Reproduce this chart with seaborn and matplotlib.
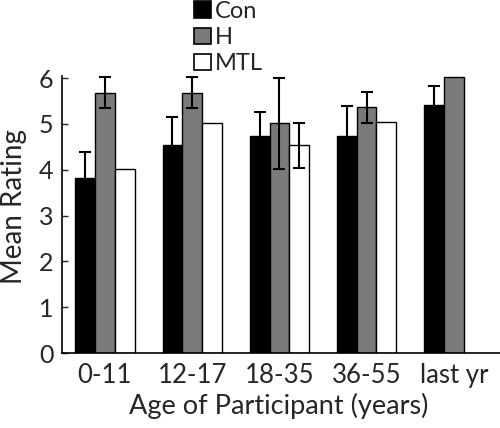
import numpy as np
import pandas as pd
import matplotlib
matplotlib.use('Agg')
import matplotlib.pyplot as plt
import seaborn as sns

# data
ages = ['0-11', '12-17', '18-35', '36-55', 'last yr']
groups = ['Con', 'H', 'MTL']
con_mean = [3.83, 4.53, 4.73, 4.73, 5.42]
con_err = [0.55, 0.62, 0.52, 0.65, 0.40]
h_mean = [5.68, 5.68, 5.01, 5.36, 6.03]
h_err = [0.34, 0.34, 1.00, 0.34, 0.0]
mtl_mean = [4.01, 5.01, 4.53, 5.04, np.nan]
mtl_err = [0.0, 0.0, 0.50, 0.0, 0.0]

rows = []
for g, means, errs in zip(groups, [con_mean, h_mean, mtl_mean], [con_err, h_err, mtl_err]):
    for a, m, e in zip(ages, means, errs):
        rows.append({'age': a, 'group': g, 'mean': m, 'err': e})
df = pd.DataFrame(rows)

sns.set_theme(style='white')
plt.rcParams['font.family'] = ['Lato', 'DejaVu Sans']

fig = plt.figure(figsize=(5, 4.28), dpi=100)
ax = fig.add_axes([0.124, 0.175, 0.876, 0.648])

palette = {'Con': 'black', 'H': '#7a7a7a', 'MTL': 'white'}
sns.barplot(data=df, x='age', y='mean', hue='group', order=ages, hue_order=groups,
            palette=palette, width=0.68, gap=0, errorbar=None, saturation=1,
            edgecolor='black', linewidth=1.0, ax=ax, legend=False)

# error bars at bar centres
for g, cont in zip(groups, ax.containers):
    sub = df[df['group'] == g].set_index('age').loc[ages]
    for bar, (m, e) in zip(cont, zip(sub['mean'], sub['err'])):
        if np.isnan(m) or e == 0:
            continue
        ax.errorbar(bar.get_x() + bar.get_width() / 2, m, yerr=e, color='black',
                    elinewidth=1.5, capsize=4, capthick=1.5, zorder=5)

ax.set_xlim(-0.493, 4.53)
ax.set_ylim(0, 6.05)
ax.set_yticks(range(7))
ax.tick_params(axis='y', direction='in', length=4, width=1, labelsize=18, pad=6, left=True)
ax.tick_params(axis='x', length=0, labelsize=18.5, pad=7)
for s in ['top', 'right']:
    ax.spines[s].set_visible(False)
for s in ['left', 'bottom']:
    ax.spines[s].set_color('black')
    ax.spines[s].set_linewidth(1.2)
ax.set_ylabel('Mean Rating', fontsize=20)
ax.set_xlabel('Age of Participant (years)', fontsize=19.5)
ax.yaxis.set_label_coords(-0.08, 0.53)
ax.xaxis.set_label_coords(0.495, -0.145)

handles = [plt.Rectangle((0, 0), 1, 1, facecolor=palette[g], edgecolor='black', linewidth=1.2)
           for g in groups]
fig.legend(handles, groups, loc='upper left', bbox_to_anchor=(0.37, 1.02), frameon=False,
           fontsize=17, handlelength=0.7, handleheight=0.7, handletextpad=0.15,
           labelspacing=0.22, borderaxespad=0)

fig.savefig('out.png', dpi=100)
